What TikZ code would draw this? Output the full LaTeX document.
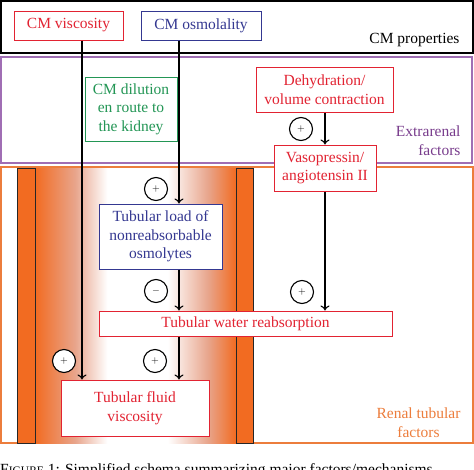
\documentclass[tikz,border=0pt]{standalone}
\usepackage{fontspec}
\setmainfont{Liberation Serif}
\usetikzlibrary{arrows.meta}
\definecolor{cmred}{RGB}{226,35,50}
\definecolor{cmblue}{RGB}{52,56,145}
\definecolor{cmgreen}{RGB}{35,150,85}
\definecolor{expurple}{RGB}{120,60,140}
\definecolor{exframe}{RGB}{160,110,180}
\definecolor{rnorange}{RGB}{236,125,60}
\definecolor{tuborange}{RGB}{242,107,33}
\definecolor{tubsalmon}{RGB}{232,165,140}
\pgfdeclarehorizontalshading{tubule}{100bp}{color(0bp)=(tuborange); color(25bp)=(tuborange);
  color(35bp)=(tubsalmon); color(43bp)=(white); color(58bp)=(white);
  color(68bp)=(tubsalmon); color(75bp)=(tuborange); color(100bp)=(tuborange)}
\begin{document}
\begin{tikzpicture}[x=1pt,y=-1pt,
    box/.style={draw,line width=1pt,fill=white,inner sep=0pt,align=center,
      font=\fontsize{15.5}{18.5}\selectfont},
    sign/.style={circle,draw,line width=1.1pt,fill=white,minimum size=23pt,inner sep=0pt,
      font=\fontsize{10}{10}\selectfont},
    band/.style={line width=1.2pt},
    bar/.style={draw=black!85,line width=1pt,fill=tuborange},
    flow/.style={line width=1.1pt,-{To[length=5pt,width=9pt]}},
    side/.style={anchor=east,font=\fontsize{15.5}{18.5}\selectfont}]
  \clip (0,0) rectangle (474,469);
  % bands
  \draw[band,black] (1,1) rectangle (473,53); % CM properties
  \draw[band,exframe] (1,57) rectangle (472,163); % extrarenal
  \draw[band,rnorange] (1,167) rectangle (473,443); % renal tubular
  % tubule
  \shade[shading=tubule] (35,168) rectangle (236,443);
  \draw[bar] (17,168) rectangle (35,443); % left wall
  \draw[bar] (236,168) rectangle (253,443); % right wall
  % lanes of the arrows
  \coordinate (laneA) at (82,0);
  \coordinate (laneB) at (179,0);
  \coordinate (laneC) at (325,0);
  % boxes
  \node[box,draw=cmred,text=cmred,minimum width=109pt,minimum height=29pt] (visc) at (68.5,25.5) {CM viscosity};
  \node[box,draw=cmblue,text=cmblue,minimum width=120pt,minimum height=29pt] (osm) at (201,25.5) {CM osmolality};
  \node[box,draw=cmgreen,text=cmgreen,minimum width=92pt,minimum height=64pt] (dil) at (131,109) {CM dilution\\en route to\\the kidney};
  \node[box,draw=cmred,text=cmred,minimum width=137pt,minimum height=45pt] (dehyd) at (324.5,89.5) {Dehydration/\\volume contraction};
  \node[box,draw=cmred,text=cmred,minimum width=102pt,minimum height=46pt] (vaso) at (325,168) {Vasopressin/\\angiotensin II};
  \node[box,draw=cmblue,text=cmblue,minimum width=123pt,minimum height=65pt] (load) at (160.5,236.5) {Tubular load of\\nonreabsorbable\\osmolytes};
  \node[box,draw=cmred,text=cmred,minimum width=293pt,minimum height=25pt] (reabs) at (245.5,323.5) {Tubular water reabsorption};
  \node[box,draw=cmred,text=cmred,minimum width=148pt,minimum height=56pt] (fluid) at (135,408) {Tubular fluid\\viscosity};
  % band labels
  \node[side,text=black] (lprop) at (463,40) {CM properties};
  \node[side,text=expurple,align=right] (lextra) at (464,140.5) {Extrarenal\\factors};
  \node[side,text=rnorange,align=center] (lrenal) at (464,422.5) {Renal tubular\\factors};
  % arrows
  \draw[flow] (visc.south -| laneA) -- (fluid.north -| laneA); % viscosity -> fluid
  \draw[flow] (osm.south -| laneB) -- (load.north -| laneB); % osmolality -> load
  \draw[flow] (load.south -| laneB) -- (reabs.north -| laneB); % load -> reabs
  \draw[flow] (reabs.south -| laneB) -- (fluid.north -| laneB); % reabs -> fluid
  \draw[flow] (dehyd.south -| laneC) -- (vaso.north -| laneC); % dehyd -> vaso
  \draw[flow] (vaso.south -| laneC) -- (reabs.north -| laneC); % vaso -> reabs
  % signs
  \node[sign] (s1) at (301,129) {$+$};
  \node[sign] (s2) at (156,189) {$+$};
  \node[sign] (s3) at (156,291) {$-$};
  \node[sign] (s4) at (302,292) {$+$};
  \node[sign] (s5) at (64,361) {$+$};
  \node[sign] (s6) at (155,361) {$+$};
  % caption, cut by the page edge
  \node[anchor=base west,inner sep=0pt,font=\fontsize{15.5}{18.5}\selectfont] (cap) at (0,474)
    {F{\fontsize{11.5}{14}\selectfont IGURE} 1: Simplified schema summarizing major factors/mechanisms};
\end{tikzpicture}
\end{document}
